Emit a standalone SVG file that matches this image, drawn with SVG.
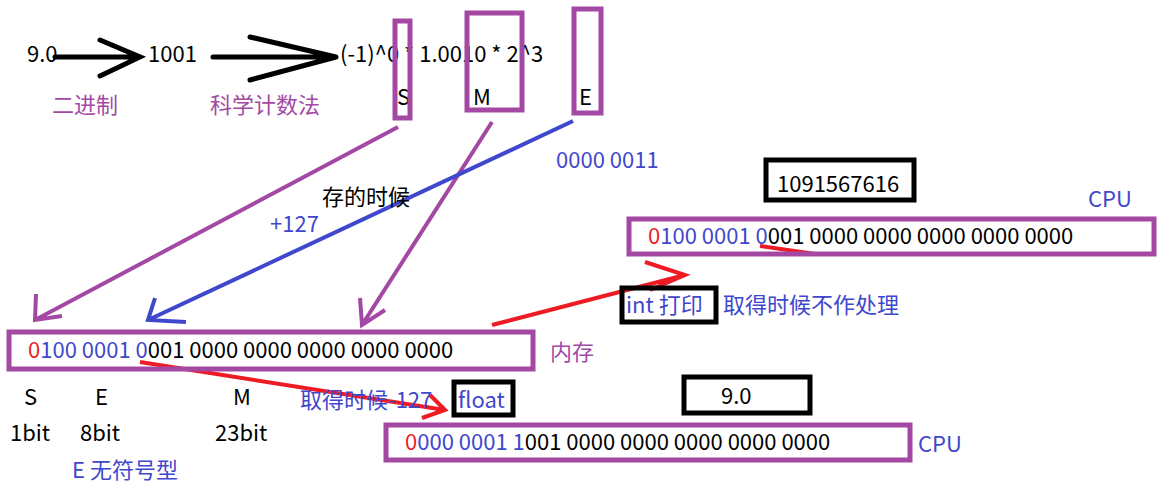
<svg xmlns="http://www.w3.org/2000/svg" width="1161" height="488" viewBox="0 0 1161 488">
<style>
text{font-family:"Noto Sans CJK SC","Open Sans",sans-serif;font-size:22px;fill:#000}
.p{fill:#A349A4}.b{fill:#3F48CC}.r{fill:#ED1C24}
.pb{fill:none;stroke:#A349A4;stroke-width:5}
.kb{fill:none;stroke:#000;stroke-width:5}
.pl{stroke:#A349A4;stroke-width:4;fill:none}
.bl{stroke:#3F48CC;stroke-width:4;fill:none}
.rl{stroke:#ED1C24;stroke-width:4;fill:none}
.kl{stroke:#000;stroke-width:5;fill:none;stroke-linecap:round}
</style>
<rect width="1161" height="488" fill="#fff"/>
<g id="top">
<text x="27" y="62">9.0</text>
<text x="148" y="62">1001</text>
<text x="340" y="62">(-1)^0  * 1.0010 * 2^3</text>
<text x="397" y="105">S</text><text x="473" y="105">M</text><text x="579" y="105">E</text>
<text x="52" y="113" class="p">二进制</text>
<text x="210" y="113" class="p">科学计数法</text>
<rect class="pb" x="395" y="21" width="15" height="97"/>
<rect class="pb" x="467" y="13" width="55" height="97"/>
<rect class="pb" x="574" y="9" width="27" height="104"/>
</g>
<g id="connectors">
<path class="kl" d="M55,57H140M100,40L140,57L100,76"/>
<path class="kl" d="M213,57H336M250,37L336,57L250,80"/>
<path class="pl" d="M398,127L35,320M36,294L35,320L62,316"/>
<path class="pl" d="M492,122L362,325M360,298L362,325L385,310"/>
<path class="bl" d="M573,121L148,320M155,298L148,320L186,322"/>
<path class="rl" d="M140,362L445,410M430,395L445,410L422,418"/>
<path class="rl" d="M492,325L685,275M645,262L685,275L650,290"/>
<path class="rl" d="M760,246L815,254"/>
</g>
<g id="labels">
<text x="322" y="205">存的时候</text>
<text x="270" y="232" class="b">+127</text>
<text x="556" y="168" class="b">0000 0011</text>
<text x="300" y="408" class="b">取得时候-127</text>
<text x="723" y="313" class="b">取得时候不作处理</text>
</g>
<g id="memory">
<rect class="pb" x="9" y="332" width="524" height="37"/>
<text x="28" y="358"><tspan class="r">0</tspan><tspan class="b">100 0001 0</tspan>001 0000 0000 0000 0000 0000</text>
<text x="550" y="360" class="p">内存</text>
<text x="24" y="405">S</text><text x="95" y="405">E</text><text x="233" y="405">M</text>
<text x="10" y="441">1bit</text><text x="80" y="441">8bit</text><text x="215" y="441">23bit</text>
<text x="72" y="478" class="b">E 无符号型</text>
</g>
<g id="float">
<rect class="kb" x="454" y="382" width="59" height="33"/>
<text x="458" y="408" class="b">float</text>
</g>
<g id="cpu-bottom">
<rect class="kb" x="684" y="377" width="126" height="36"/>
<text x="721" y="404">9.0</text>
<rect class="pb" x="386" y="425" width="524" height="35"/>
<text x="405" y="450"><tspan class="r">0</tspan><tspan class="b">000 0001 1</tspan>001 0000 0000 0000 0000 0000</text>
<text x="918" y="452" class="b">CPU</text>
</g>
<g id="int">
<rect class="kb" x="622" y="288" width="94" height="34"/>
<text x="626" y="313" class="b">int 打印</text>
</g>
<g id="cpu-top">
<rect class="kb" x="766" y="160" width="148" height="40"/>
<text x="777" y="192">1091567616</text>
<text x="1088" y="207" class="b">CPU</text>
<rect class="pb" x="629" y="219" width="525" height="35"/>
<text x="648" y="244"><tspan class="r">0</tspan><tspan class="b">100 0001 0</tspan>001 0000 0000 0000 0000 0000</text>
</g>
</svg>
